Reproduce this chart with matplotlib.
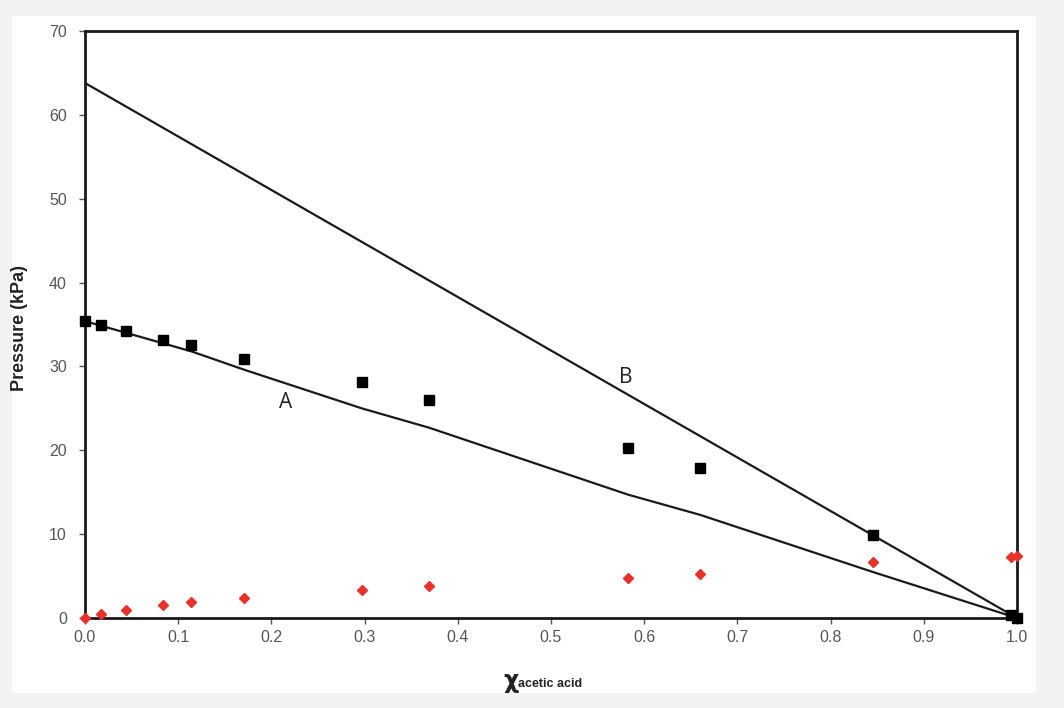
import matplotlib
matplotlib.use('Agg')
import matplotlib.pyplot as plt
from matplotlib.patches import Rectangle

plt.rcParams['font.family'] = ['Liberation Sans', 'DejaVu Sans']

# measured points: vapour pressure vs mole fraction
x_data = [0.0, 0.017, 0.044, 0.084, 0.114, 0.171, 0.297, 0.369, 0.583, 0.660, 0.845, 0.994, 1.0]
p_black = [35.4, 35.0, 34.2, 33.2, 32.6, 30.9, 28.1, 26.0, 20.3, 17.9, 9.9, 0.4, 0.0]
p_red = [0.0, 0.5, 1.0, 1.5, 1.9, 2.4, 3.3, 3.8, 4.8, 5.3, 6.7, 7.3, 7.4]

# line A (polyline) and line B
x_a = [0.0, 0.114, 0.171, 0.297, 0.369, 0.583, 0.660, 0.845, 1.0]
p_a = [35.4, 31.8, 29.6, 25.0, 22.7, 14.7, 12.3, 5.5, 0.0]
x_b = [0.0, 1.0]
p_b = [63.8, 0.0]

W, H = 1064, 708
fig = plt.figure(figsize=(W / 100, H / 100), dpi=100, facecolor='#f2f2f2')
card = Rectangle((12 / W, 1 - 693 / H), (1036 - 12) / W, (693 - 16) / H,
                 transform=fig.transFigure, facecolor='white', edgecolor='none')
card.set_zorder(-10)
fig.add_artist(card)

ax = fig.add_axes([85 / W, 1 - 618 / H, 932 / W, 587 / H])
ax.set_facecolor('white')

ax.plot(x_b, p_b, color='#1a1a1a', lw=1.6, zorder=2)
ax.plot(x_a, p_a, color='#1a1a1a', lw=1.6, zorder=2)
ax.plot(x_data, p_black, 's', color='black', ms=6.5, zorder=3, clip_on=False)
ax.plot(x_data, p_red, 'D', color='#e8312a', ms=5, zorder=3, clip_on=False)

ax.text(0.215, 25.7, 'A', fontsize=15, color='#222222', ha='center', va='center',
        family=['Open Sans', 'DejaVu Sans'])
ax.text(0.580, 28.7, 'B', fontsize=15, color='#222222', ha='center', va='center',
        family=['Open Sans', 'DejaVu Sans'])

ax.set_xlim(0, 1)
ax.set_ylim(0, 70)
ax.set_xticks([i / 10 for i in range(11)])
ax.set_xticklabels([f'{i / 10:.1f}' for i in range(11)])
ax.set_yticks(range(0, 71, 10))
ax.tick_params(direction='out', length=4, width=1, color='#555555',
               labelcolor='#555555', labelsize=11.5)
ax.tick_params(axis='y', pad=9)
ax.tick_params(axis='x', pad=5)
for s in ax.spines.values():
    s.set_linewidth(2)
    s.set_color('#1a1a1a')

ax.set_ylabel('Pressure (kPa)', fontsize=13, fontweight='bold', color='#222222')
ax.yaxis.set_label_coords(-0.061, 0.494)
fig.text(511 / W, 1 - 681 / H, 'χ', fontsize=17, fontweight='bold', color='#222222',
         ha='center', va='center', family=['DejaVu Sans'])
fig.text(518 / W, 1 - 684 / H, 'acetic acid', fontsize=9, fontweight='bold',
         color='#222222', ha='left', va='center')

fig.savefig('out.png', dpi=100, facecolor=fig.get_facecolor())
